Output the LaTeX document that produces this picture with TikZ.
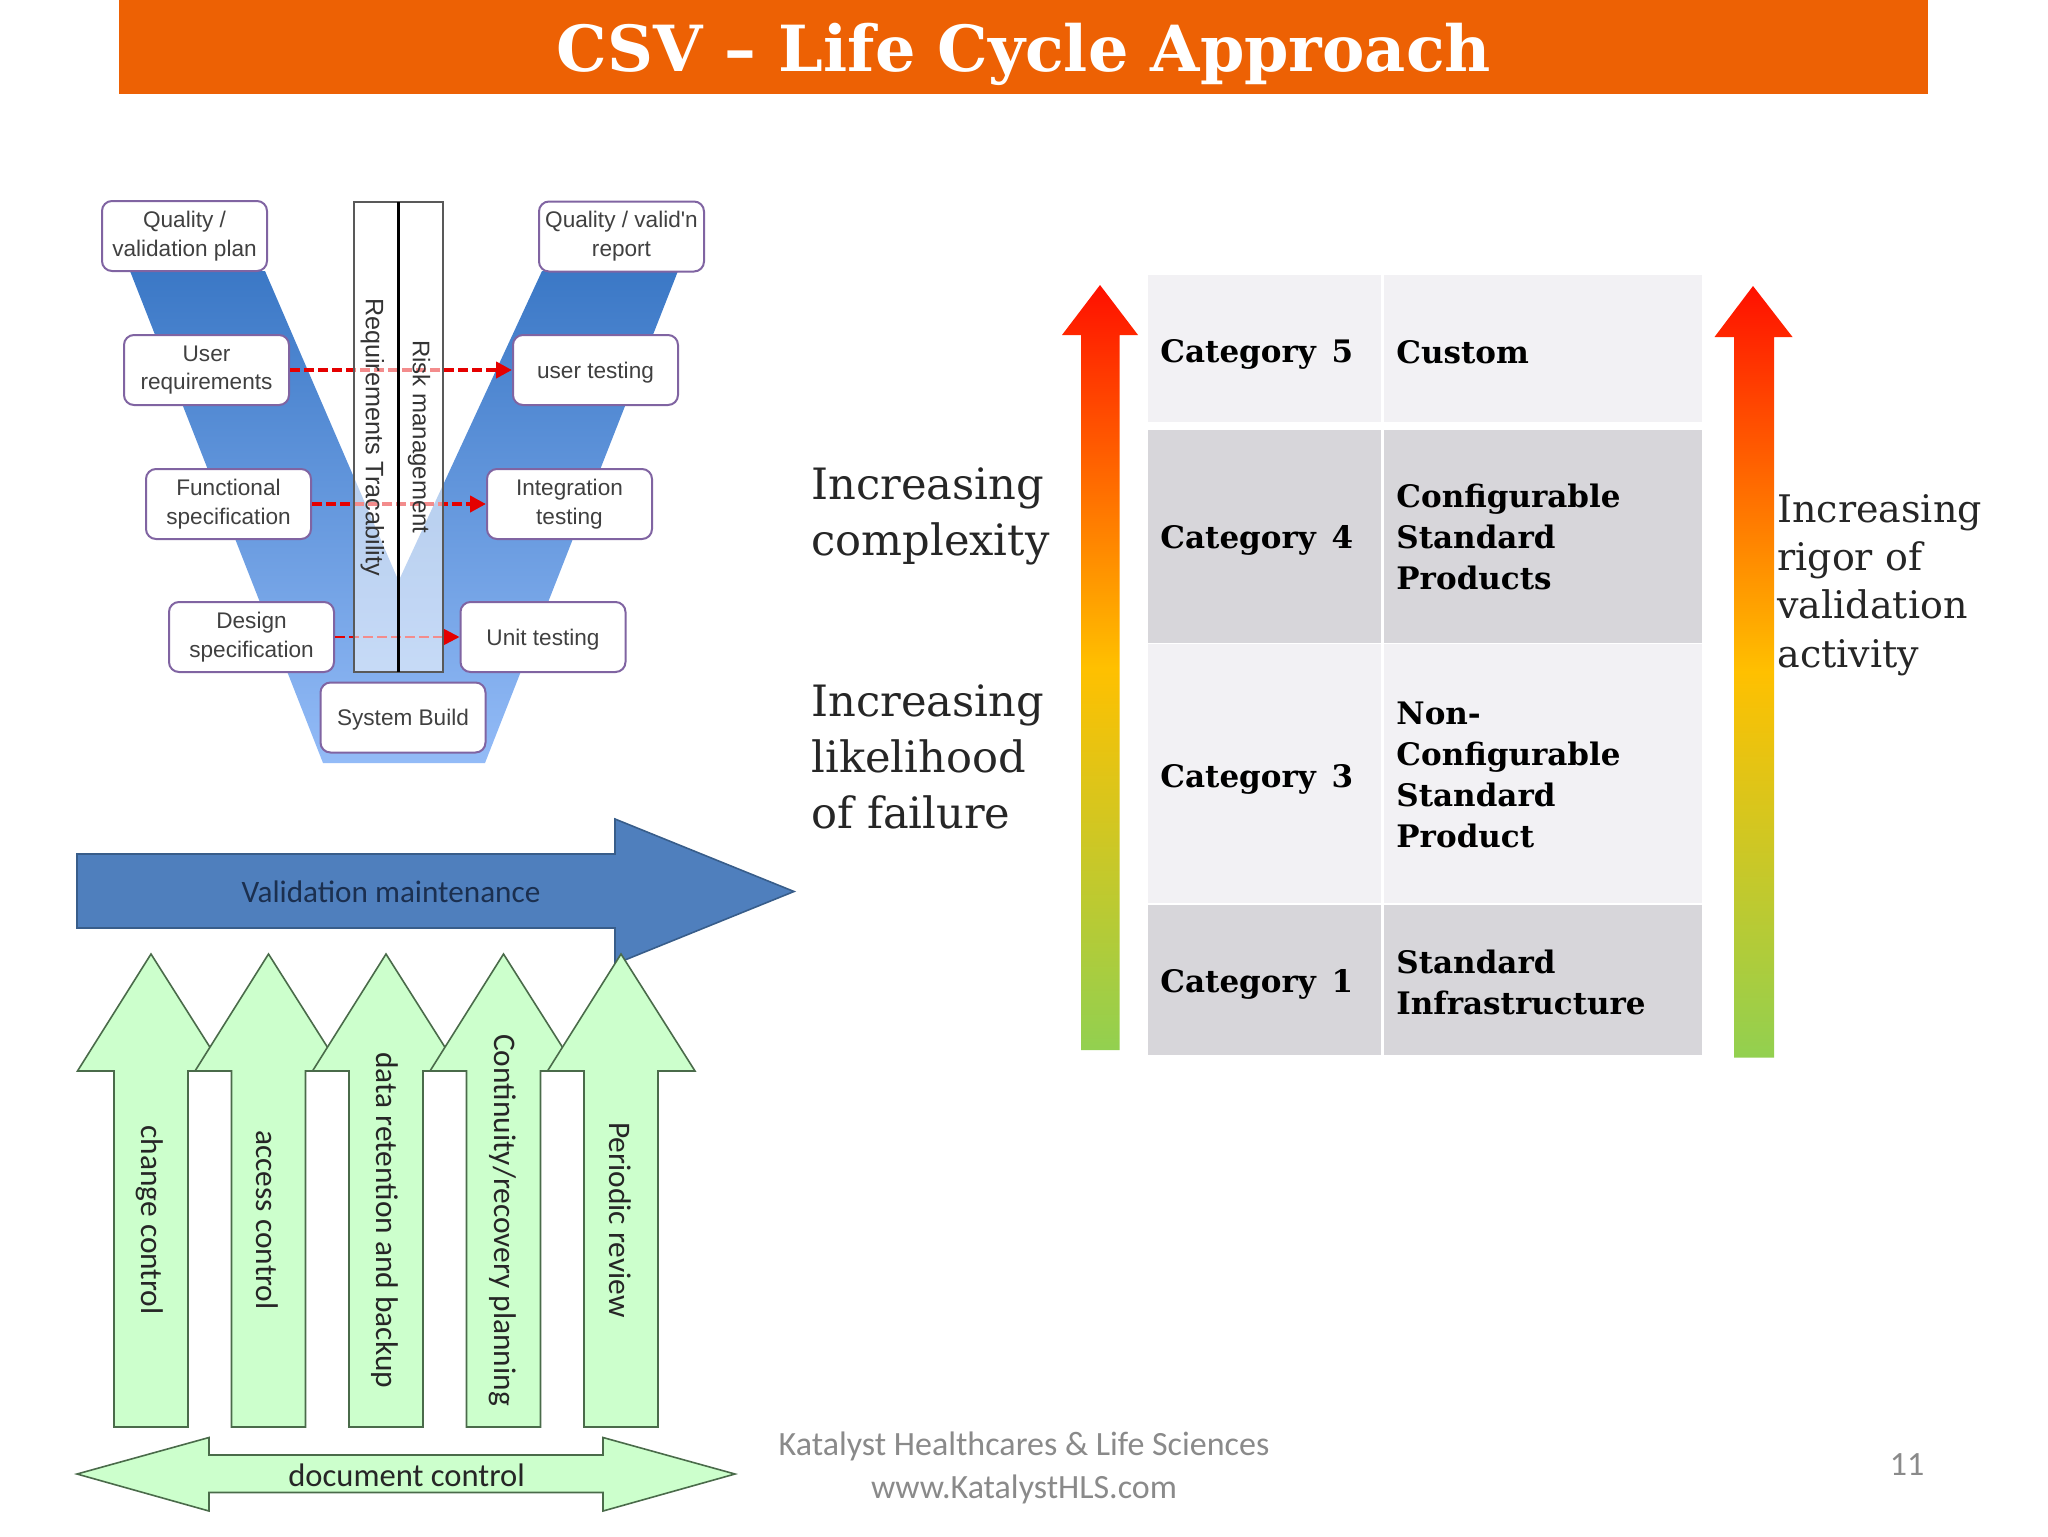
\documentclass[tikz,border=0pt]{standalone}
\usepackage{fontspec}
\setmainfont{Carlito}
\newfontfamily\bookfont{DejaVu Serif}
\newfontfamily\vfont{Liberation Sans}
\usetikzlibrary{calc}
\usetikzlibrary{arrows.meta}
\definecolor{titleorange}{HTML}{ED6104}
\definecolor{vtop}{HTML}{3B78C6}
\definecolor{vbottom}{HTML}{93BBF7}
\definecolor{boxpurple}{HTML}{8064A2}
\definecolor{mainfill}{HTML}{4F7FBD}
\definecolor{mainline}{HTML}{385D8A}
\definecolor{mainink}{HTML}{1B2F4F}
\definecolor{mintfill}{HTML}{CCFFCC}
\definecolor{mintline}{HTML}{4A6B4A}
\definecolor{rowlight}{HTML}{F2F1F4}
\definecolor{rowdark}{HTML}{D7D6DA}
\definecolor{footgray}{HTML}{8A8A8A}
\definecolor{riskred}{HTML}{FF1000}
\definecolor{riskamber}{HTML}{FFC000}
\definecolor{riskgreen}{HTML}{92D050}
\tikzset{
	vbox/.style={draw=boxpurple, line width=1pt, fill=white, rounded corners=5pt, minimum width=82.5pt, minimum height=35pt, inner sep=0pt, align=center, text=black!75, font=\vfont\fontsize{11.3}{14.4}\selectfont, execute at begin node={\rule{0pt}{10.7pt}}},
	redlink/.style={draw=red!90!black, line width=2pt, dash pattern=on 5pt off 2pt, -{Triangle[length=8pt,width=8pt]}},
	colbox/.style={draw=black!65, line width=0.8pt, fill=white, fill opacity=0.55},
	coltext/.style={rotate=-90, inner sep=0pt, text=black!80, font=\vfont\fontsize{12}{14}\selectfont},
	mintarrow/.style={draw=mintline, line width=0.8pt, fill=mintfill},
	minttext/.style={rotate=-90, inner sep=0pt, text=black!85, font=\fontsize{15.7}{18}\selectfont},
	riskarrow/.style={top color=riskred, bottom color=riskgreen, middle color=riskamber},
	cattext/.style={anchor=west, inner sep=0pt, align=left, font=\bookfont\bfseries\fontsize{15.5}{20.5}\selectfont},
	sidetext/.style={anchor=west, inner sep=0pt, align=left, text=black!85, font=\bookfont\fontsize{21.6}{27.9}\selectfont},
	foottext/.style={inner sep=0pt, text=footgray, font=\fontsize{17}{20}\selectfont}
}
\begin{document}
\begin{tikzpicture}[x=0.5pt, y=-0.5pt]
	\useasboundingbox (0,0) rectangle (2048,1536);

	\fill[titleorange] (119,0) rectangle (1928,94);
	\node[inner sep=0pt, text=white, font=\bookfont\bfseries\fontsize{31.8}{34}\selectfont] (title) at (1024,54) {CSV – Life Cycle Approach};

	\shade[top color=vtop, bottom color=vbottom] (130,271) -- (323,763) -- (485,763) -- (678,271) -- (542,271) -- (398.6,581) -- (265,271) -- cycle;

	\node[vbox] (qplan) at (184.5,236) {Quality /\\validation plan};
	\node[vbox] (qrep) at (621.5,236.5) {Quality / valid'n\\report};
	\node[vbox] (ureq) at (206.5,370) {User\\requirements};
	\node[vbox] (utest) at (595.5,370) {user testing};
	\node[vbox] (fspec) at (228.5,504) {Functional\\specification};
	\node[vbox] (itest) at (569.5,504) {Integration\\testing};
	\node[vbox] (dspec) at (251.5,637) {Design\\specification};
	\node[vbox] (unit) at (543,637) {Unit testing};
	\node[vbox] (build) at (403,717.5) {System Build};

	\draw[redlink] (ureq) -- (utest);
	\draw[redlink] (fspec) -- (itest);
	\draw[redlink, line width=1.3pt] (dspec) -- (unit);

	\draw[colbox] (354,202) rectangle (398,672);
	\draw[colbox] (398,202) rectangle (443,672);
	\draw[black, line width=1.5pt] (398,202) -- (398,672);
	\node[coltext, font=\vfont\fontsize{12.6}{14}\selectfont] (trace) at (372.5,437) {Requirements Tracability};
	\node[coltext] (risk) at (419,437) {Risk management};

	\draw[draw=mainline, line width=0.8pt, fill=mainfill] (77,854) -- (615,854) -- (615,819) -- (794,891.5) -- (615,964) -- (615,928) -- (77,928) -- cycle;
	\node[inner sep=0pt, text=mainink, font=\fontsize{15.6}{18}\selectfont] (maint) at (391,891.5) {Validation maintenance};

	\path (114,1427) coordinate (cursor);
	\foreach \lbl/\nm in {change control/change, access control/access, data retention and backup/data, {Continuity/recovery planning}/cont, Periodic review/review} {
		\draw[mintarrow] (cursor) -- ++(0,-356) -- ++(-36.5,0) -- ++(73.5,-117) -- ++(74,117) -- ++(-37,0) -- ++(0,356) -- cycle;
		\node[minttext] (\nm) at ($ (cursor) + (36,-207) $) {\lbl};
		\path (cursor) ++(117.5,0) coordinate (cursor);
	}

	\draw[mintarrow] (77,1474) -- (209,1437.5) -- (209,1455) -- (603,1455) -- (603,1437.5) -- (735,1474) -- (603,1511) -- (603,1492.5) -- (209,1492.5) -- (209,1511) -- cycle;
	\node[inner sep=0pt, text=black!85, font=\fontsize{16.3}{18}\selectfont] (doc) at (406.6,1475) {document control};

	\shade[riskarrow] (1081,1050) -- (1081,335) -- (1062,335) -- (1100,285) -- (1138,335) -- (1119.6,335) -- (1119.6,1050) -- cycle;
	\shade[riskarrow] (1734,1057.5) -- (1734,337) -- (1714.5,337) -- (1753,286) -- (1792.5,337) -- (1774,337) -- (1774,1057.5) -- cycle;

	\foreach \ytop/\ybot/\rowcol in {274.5/422/rowlight, 430/643/rowdark, 644/903/rowlight, 905/1055/rowdark} {
		\fill[\rowcol] (1147.6,\ytop) rectangle (1381,\ybot);
		\fill[\rowcol] (1384,\ytop) rectangle (1702,\ybot);
	}

	\node[cattext] (cat5) at (1160,354) {Category\hspace{2.5pt} 5};
	\node[cattext] (cat4) at (1160,540) {Category\hspace{2.5pt} 4};
	\node[cattext] (cat3) at (1160,779) {Category\hspace{2.5pt} 3};
	\node[cattext] (cat1) at (1160,984) {Category\hspace{2.5pt} 1};
	\node[cattext] (custom) at (1396,352) {Custom};
	\node[cattext] (conf) at (1396,536.5) {Configurable\\Standard\\Products};
	\node[cattext] (nonconf) at (1396,775) {Non-\\Configurable\\Standard\\Product};
	\node[cattext] (infra) at (1396,982) {Standard\\Infrastructure};

	\node[sidetext] (cplx) at (811,516) {Increasing\\complexity};
	\node[sidetext] (fail) at (811,757) {Increasing\\likelihood\\of failure};
	\node[sidetext, font=\bookfont\fontsize{19}{24.2}\selectfont] (rigor) at (1777,585) {Increasing\\rigor of\\validation\\activity};

	\node[foottext] (foot1) at (1024,1446) {Katalyst Healthcares \& Life Sciences};
	\node[foottext] (foot2) at (1024,1489) {www.KatalystHLS.com};
	\node[foottext] (page) at (1907,1465) {11};
\end{tikzpicture}
\end{document}
